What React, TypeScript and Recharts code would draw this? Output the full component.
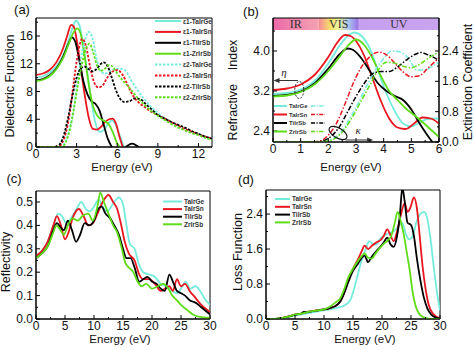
import React from 'react';
import { LineChart, Line, XAxis, YAxis, ReferenceArea, ReferenceDot, ReferenceLine } from 'recharts';

type P = [number, number];

const GE = '#74ecdc';
const SN = '#e8161e';
const SB = '#000000';
const ZR = '#5edc18';
const FONT = "'Liberation Sans', Arial, Helvetica, sans-serif";
const LW = 1.8;

// ---------- (a) dielectric function ----------
const aEnergyMajor = [0, 3, 6, 9, 12];
const aEnergyTicks = [0, 1.5, 3, 4.5, 6, 7.5, 9, 10.5, 12];
const aValueMajor = [0, 4, 8, 12, 16];
const aValueTicks = [0, 2, 4, 6, 8, 10, 12, 14, 16, 18];

const eps1TaIrGe: P[] = [[0, 10.0], [0.5, 10.2], [1, 10.7], [1.5, 11.6], [2, 13.2], [2.4, 15.3], [2.7, 17.2], [2.95, 18.2], [3.2, 17.6], [3.5, 14.5], [3.8, 10.5], [4.1, 6.5], [4.4, 3.4], [4.7, 2.2], [5.0, 2.4], [5.3, 3.3], [5.6, 3.8], [5.9, 3.2], [6.2, 1.6], [6.5, 0], [6.8, -1.5], [7.5, -2]];
const eps1TaIrSn: P[] = [[0, 10.4], [0.5, 10.6], [1, 11.1], [1.5, 12.2], [2, 14.2], [2.3, 16.0], [2.6, 17.6], [2.8, 17.3], [3.0, 15.5], [3.3, 11.5], [3.6, 7.5], [3.9, 4.2], [4.2, 2.6], [4.5, 2.5], [4.8, 2.9], [5.1, 3.6], [5.4, 4.0], [5.65, 4.1], [5.9, 3.4], [6.15, 1.6], [6.4, 0.1], [6.7, -1], [7.5, -1.5]];
const eps1TiIrSb: P[] = [[0, 9.6], [0.5, 9.8], [1, 10.3], [1.5, 11.3], [2, 13.0], [2.4, 14.9], [2.65, 15.8], [2.9, 15.2], [3.2, 12.5], [3.5, 9.5], [3.8, 7.6], [4.1, 6.6], [4.4, 6.2], [4.7, 5.2], [5.0, 3.2], [5.3, 1.2], [5.6, 0], [5.9, -0.8], [6.3, -0.6], [6.7, 0.1], [7.1, 0.5], [7.5, 0.1], [7.9, -0.6], [8.5, -1]];
const eps1ZrIrSb: P[] = [[0, 9.5], [0.5, 9.7], [1, 10.2], [1.5, 11.2], [2, 12.8], [2.4, 14.8], [2.8, 16.6], [3.05, 17.1], [3.3, 16.3], [3.6, 13.0], [3.9, 9.0], [4.2, 6.0], [4.5, 4.6], [4.8, 4.0], [5.1, 3.7], [5.4, 3.2], [5.7, 2.0], [6.0, 0.5], [6.2, 0], [6.5, -1], [7.5, -1.5]];
const eps2TaIrGe: P[] = [[0, 0], [1.8, 0], [2.1, 0.5], [2.4, 2], [2.7, 4.5], [3.0, 8.5], [3.3, 12.5], [3.6, 15.3], [3.9, 16.6], [4.2, 15.5], [4.5, 12.5], [4.8, 10.8], [5.1, 10.6], [5.4, 10.9], [5.8, 11.2], [6.2, 11.3], [6.6, 11.0], [7.0, 9.7], [7.5, 8.2], [8, 6.9], [8.5, 5.8], [9, 4.9], [9.5, 4.2], [10, 3.6], [10.5, 3.0], [11, 2.6], [11.5, 2.2], [12, 1.9], [12.5, 1.5], [13, 1.2]];
const eps2TaIrSn: P[] = [[0, 0], [1.6, 0], [1.9, 0.5], [2.2, 2], [2.5, 5], [2.8, 9.5], [3.1, 13.5], [3.4, 15.6], [3.7, 14.5], [4.0, 11.5], [4.3, 9.3], [4.6, 8.6], [4.9, 8.8], [5.2, 9.8], [5.6, 10.8], [6.0, 11.1], [6.4, 10.4], [6.8, 8.8], [7.2, 7.3], [7.6, 6.4], [8, 5.8], [8.5, 5.1], [9, 4.6], [9.5, 4.1], [10, 3.6], [10.5, 3.1], [11, 2.6], [11.5, 2.2], [12, 1.8], [12.5, 1.5], [13, 1.2]];
const eps2TiIrSb: P[] = [[0, 0], [1.5, 0], [1.8, 0.5], [2.1, 2], [2.4, 4.5], [2.7, 7.5], [3.0, 10], [3.3, 11.3], [3.6, 11.6], [3.9, 11.2], [4.2, 10.9], [4.5, 11.3], [4.8, 12.0], [5.0, 12.2], [5.3, 11.6], [5.6, 10.0], [5.9, 8.2], [6.2, 7.0], [6.5, 6.5], [6.9, 6.6], [7.3, 7.0], [7.7, 6.9], [8.1, 6.2], [8.5, 5.5], [9, 4.6], [9.5, 4.1], [10, 3.6], [10.5, 3.2], [11, 2.8], [11.5, 2.3], [12, 1.9], [12.5, 1.5], [13, 1.2]];
const eps2ZrIrSb: P[] = [[0, 0], [1.9, 0], [2.2, 0.7], [2.5, 2.5], [2.8, 5.5], [3.1, 9.0], [3.4, 12.0], [3.7, 14.2], [3.95, 14.9], [4.2, 13.8], [4.5, 11.8], [4.8, 11.0], [5.1, 11.3], [5.4, 11.8], [5.7, 11.5], [6.0, 10.6], [6.5, 9.4], [7, 8.3], [7.5, 7.1], [8, 6.1], [8.5, 5.2], [9, 4.5], [9.5, 3.9], [10, 3.3], [10.5, 2.8], [11, 2.4], [11.5, 2.0], [12, 1.7], [12.5, 1.3], [13, 1.0]];

// ---------- (b) refractive index / extinction coefficient ----------
const bEnergyMajor = [0, 1, 2, 3, 4, 5, 6];
const bEnergyTicks = [0, 0.5, 1, 1.5, 2, 2.5, 3, 3.5, 4, 4.5, 5, 5.5, 6];
const bIndexMajor = [2.4, 3.2, 4.0];
const bIndexTicks = [2.4, 2.8, 3.2, 3.6, 4.0, 4.4];
const bKappaMajor = [0, 0.8, 1.6, 2.4];
const bKappaTicks = [0, 0.4, 0.8, 1.2, 1.6, 2.0, 2.4, 2.8];
const bBands = ['IR', 'VIS', 'UV'];
const bBandEdges = [0, 1.65, 3.1, 6];

const nTaIrGe: P[] = [[0, 3.14], [0.5, 3.16], [1, 3.23], [1.5, 3.4], [2, 3.75], [2.4, 4.1], [2.7, 4.3], [2.95, 4.37], [3.2, 4.3], [3.5, 4.05], [3.8, 3.6], [4.1, 3.15], [4.4, 2.8], [4.7, 2.55], [5.0, 2.49], [5.3, 2.57], [5.6, 2.64], [6, 2.65]];
const nTaIrSn: P[] = [[0, 3.22], [0.5, 3.25], [1, 3.33], [1.5, 3.52], [2, 3.88], [2.3, 4.15], [2.6, 4.32], [2.8, 4.3], [3.0, 4.2], [3.3, 3.9], [3.6, 3.45], [3.9, 3.0], [4.2, 2.65], [4.5, 2.47], [4.8, 2.44], [5.1, 2.55], [5.4, 2.67], [5.7, 2.65], [6, 2.55]];
const nTiIrSb: P[] = [[0, 3.1], [0.5, 3.12], [1, 3.19], [1.5, 3.35], [2, 3.65], [2.4, 3.93], [2.7, 4.05], [2.9, 4.02], [3.2, 3.85], [3.5, 3.6], [3.8, 3.35], [4.1, 3.2], [4.4, 3.1], [4.7, 3.02], [5.0, 2.83], [5.3, 2.55], [5.6, 2.3], [5.8, 2.15], [6, 2.0]];
const nZrIrSb: P[] = [[0, 3.09], [0.5, 3.11], [1, 3.18], [1.5, 3.33], [2, 3.6], [2.4, 3.88], [2.7, 4.1], [3.0, 4.23], [3.3, 4.12], [3.6, 3.85], [3.9, 3.5], [4.2, 3.2], [4.5, 3.02], [4.8, 2.85], [5.1, 2.72], [5.4, 2.58], [5.7, 2.43], [6, 2.28]];
const kTaIrGe: P[] = [[0, 0], [1.5, 0], [1.9, 0.02], [2.2, 0.1], [2.5, 0.3], [2.8, 0.65], [3.1, 1.05], [3.4, 1.5], [3.7, 1.9], [4.0, 2.2], [4.3, 2.4], [4.6, 2.37], [4.9, 2.2], [5.2, 1.9], [5.5, 1.9], [5.8, 2.02], [6, 2.1]];
const kTaIrSn: P[] = [[0, 0], [1.4, 0], [1.7, 0.03], [2.0, 0.18], [2.3, 0.5], [2.6, 1.0], [2.9, 1.55], [3.2, 1.98], [3.5, 2.25], [3.8, 2.37], [4.1, 2.3], [4.4, 2.08], [4.7, 1.85], [5.0, 1.72], [5.3, 1.75], [5.6, 1.95], [6, 2.22]];
const kTiIrSb: P[] = [[0, 0], [1.5, 0], [1.8, 0.03], [2.1, 0.15], [2.4, 0.4], [2.7, 0.8], [3.0, 1.2], [3.3, 1.55], [3.6, 1.8], [3.9, 1.86], [4.2, 1.86], [4.5, 1.98], [4.8, 2.15], [5.1, 2.3], [5.35, 2.36], [5.6, 2.3], [6, 2.15]];
const kZrIrSb: P[] = [[0, 0], [1.7, 0], [2.0, 0.03], [2.3, 0.12], [2.6, 0.35], [2.9, 0.7], [3.2, 1.1], [3.5, 1.5], [3.8, 1.9], [4.1, 2.1], [4.4, 2.08], [4.7, 2.0], [5.0, 1.96], [5.3, 2.05], [5.6, 2.2], [6, 2.38]];

// ---------- (c) reflectivity ----------
const cdEnergyMajor = [0, 5, 10, 15, 20, 25, 30];
const cdEnergyTicks = [0, 2.5, 5, 7.5, 10, 12.5, 15, 17.5, 20, 22.5, 25, 27.5, 30];
const cReflMajor = [0, 0.1, 0.2, 0.3, 0.4, 0.5];
const cReflTicks = [0, 0.05, 0.1, 0.15, 0.2, 0.25, 0.3, 0.35, 0.4, 0.45, 0.5];

const rTaIrGe: P[] = [[0, 0.27], [1, 0.29], [2, 0.33], [3, 0.4], [3.8, 0.45], [4.5, 0.44], [5.2, 0.41], [6, 0.43], [7, 0.47], [7.8, 0.5], [8.6, 0.47], [9.3, 0.46], [10, 0.48], [10.8, 0.51], [11.5, 0.48], [12.3, 0.46], [13.2, 0.49], [14.3, 0.52], [15, 0.49], [15.6, 0.4], [16.2, 0.32], [17, 0.3], [17.8, 0.23], [18.5, 0.2], [19.5, 0.19], [20.5, 0.18], [21.5, 0.15], [22.5, 0.14], [23.5, 0.12], [24.3, 0.11], [25, 0.13], [25.8, 0.16], [26.6, 0.13], [27.5, 0.14], [28.3, 0.12], [29, 0.09], [30, 0.06]];
const rTaIrSn: P[] = [[0, 0.27], [1, 0.29], [2, 0.33], [3, 0.4], [3.6, 0.44], [4.3, 0.4], [5, 0.34], [5.6, 0.37], [6.3, 0.43], [7.4, 0.47], [8.2, 0.44], [9, 0.4], [9.8, 0.41], [10.6, 0.45], [11.5, 0.5], [12.5, 0.53], [13.3, 0.5], [14, 0.47], [14.7, 0.4], [15.3, 0.33], [16, 0.28], [17, 0.25], [17.8, 0.19], [18.5, 0.17], [19.5, 0.17], [20.5, 0.15], [21.5, 0.12], [22.3, 0.13], [23, 0.14], [23.6, 0.12], [24.3, 0.17], [25, 0.14], [25.7, 0.15], [26.5, 0.12], [27.5, 0.09], [28.5, 0.06], [30, 0.03]];
const rTiIrSb: P[] = [[0, 0.26], [1, 0.28], [2, 0.31], [3, 0.38], [3.6, 0.41], [4.3, 0.39], [4.8, 0.38], [5.5, 0.42], [6.2, 0.38], [6.9, 0.33], [7.6, 0.36], [8.4, 0.41], [9.2, 0.4], [10, 0.42], [10.7, 0.47], [11.3, 0.48], [12, 0.45], [12.8, 0.43], [13.5, 0.4], [14.3, 0.36], [15, 0.3], [15.6, 0.26], [16.3, 0.26], [17, 0.22], [17.8, 0.16], [18.5, 0.17], [19.2, 0.18], [20, 0.16], [20.8, 0.15], [21.5, 0.13], [22.2, 0.12], [23, 0.19], [23.6, 0.16], [24.3, 0.12], [25, 0.11], [25.7, 0.1], [26.5, 0.08], [27.5, 0.07], [28.5, 0.05], [30, 0.02]];
const rZrIrSb: P[] = [[0, 0.26], [1, 0.28], [2, 0.31], [3, 0.37], [3.5, 0.4], [4.2, 0.38], [4.8, 0.36], [5.5, 0.4], [6.3, 0.43], [7.2, 0.42], [8, 0.44], [9, 0.45], [9.8, 0.42], [10.5, 0.47], [11.1, 0.54], [11.7, 0.5], [12.5, 0.45], [13.3, 0.4], [14, 0.37], [14.8, 0.3], [15.4, 0.24], [16, 0.22], [16.8, 0.2], [17.5, 0.16], [18.2, 0.14], [19, 0.15], [20, 0.13], [21, 0.14], [22, 0.15], [22.8, 0.13], [23.5, 0.1], [24.3, 0.08], [25, 0.06], [26, 0.04], [27, 0.02], [28, 0.01], [30, 0.005]];

// ---------- (d) loss function ----------
const dLossMajor = [0, 0.8, 1.6, 2.4];
const dLossTicks = [0, 0.4, 0.8, 1.2, 1.6, 2.0, 2.4, 2.8];

const lTaIrGe: P[] = [[0, 0], [2, 0.01], [4, 0.05], [6, 0.1], [8, 0.15], [10, 0.2], [11, 0.22], [12, 0.25], [13, 0.28], [14, 0.35], [14.6, 0.45], [15.2, 0.7], [15.8, 1.0], [16.5, 1.35], [17.2, 1.6], [17.8, 1.78], [18.4, 1.72], [19, 1.7], [19.6, 1.82], [20.3, 1.9], [21, 1.95], [21.7, 1.98], [22.4, 2.05], [23, 2.15], [23.5, 2.2], [24.1, 1.95], [24.7, 1.82], [25.3, 1.9], [25.9, 2.2], [26.6, 2.4], [27.3, 2.45], [27.8, 2.3], [28.4, 1.8], [29, 1.1], [29.5, 0.6], [30, 0.2]];
const lTaIrSn: P[] = [[0, 0], [2, 0.01], [4, 0.06], [5, 0.1], [6, 0.12], [7, 0.16], [8, 0.18], [9, 0.2], [10, 0.22], [11, 0.25], [12, 0.3], [12.8, 0.4], [13.5, 0.6], [14.2, 0.9], [15, 1.15], [15.8, 1.35], [16.5, 1.55], [17, 1.68], [17.6, 1.6], [18.3, 1.68], [19, 1.75], [19.7, 1.8], [20.3, 1.9], [20.9, 2.05], [21.5, 1.9], [22, 1.78], [22.6, 2.0], [23.2, 2.35], [23.9, 2.65], [24.4, 2.45], [24.9, 2.55], [25.5, 2.78], [26, 2.55], [26.5, 1.9], [27, 1.2], [27.5, 0.7], [28, 0.35], [28.8, 0.12], [30, 0.02]];
const lTiIrSb: P[] = [[0, 0], [2, 0.01], [4, 0.06], [5, 0.1], [6, 0.12], [6.5, 0.16], [7, 0.15], [8, 0.18], [9, 0.2], [10, 0.22], [11, 0.25], [12, 0.3], [12.8, 0.4], [13.5, 0.6], [14.2, 0.85], [15, 1.1], [15.8, 1.25], [16.5, 1.4], [17, 1.45], [17.6, 1.3], [18.2, 1.42], [19, 1.55], [19.7, 1.65], [20.3, 1.75], [20.9, 1.86], [21.5, 1.7], [22, 1.65], [22.6, 1.9], [23.1, 2.4], [23.5, 3.0], [23.9, 2.7], [24.4, 2.2], [25, 2.15], [25.5, 1.9], [26, 1.4], [26.6, 0.9], [27.2, 0.5], [27.8, 0.25], [28.5, 0.1], [29.3, 0.03], [30, 0.01]];
const lZrIrSb: P[] = [[0, 0], [2, 0.01], [4, 0.06], [5, 0.1], [6, 0.12], [7, 0.15], [8, 0.18], [9, 0.2], [10, 0.22], [11, 0.28], [12, 0.38], [12.7, 0.45], [13.4, 0.65], [14.2, 0.95], [15, 1.15], [15.7, 1.3], [16.4, 1.42], [17, 1.5], [17.6, 1.4], [18.2, 1.38], [18.9, 1.5], [19.6, 1.62], [20.3, 1.72], [21, 1.8], [21.6, 1.9], [22.2, 2.2], [22.7, 2.45], [23.2, 2.25], [23.8, 1.9], [24.3, 1.5], [24.8, 1.1], [25.3, 0.6], [25.8, 0.3], [26.4, 0.12], [27, 0.05], [28, 0.01], [30, 0]];

// ---------- series configs ----------
const compounds = ['TaIrGe', 'TaIrSn', 'TiIrSb', 'ZrIrSb'];
const colors = [GE, SN, SB, ZR];

const seriesA = [
  { name: 'ε1-TaIrGe', color: GE, dash: undefined as string | undefined, pts: eps1TaIrGe },
  { name: 'ε1-TaIrSn', color: SN, dash: undefined, pts: eps1TaIrSn },
  { name: 'ε1-TiIrSb', color: SB, dash: undefined, pts: eps1TiIrSb },
  { name: 'ε1-ZrIrSb', color: ZR, dash: undefined, pts: eps1ZrIrSb },
  { name: 'ε2-TaIrGe', color: GE, dash: '2.5 1.5', pts: eps2TaIrGe },
  { name: 'ε2-TaIrSn', color: SN, dash: '2.5 1.5', pts: eps2TaIrSn },
  { name: 'ε2-TiIrSb', color: SB, dash: '2.5 1.5', pts: eps2TiIrSb },
  { name: 'ε2-ZrIrSb', color: ZR, dash: '2.5 1.5', pts: eps2ZrIrSb },
];
const seriesBn = [nTaIrGe, nTaIrSn, nTiIrSb, nZrIrSb];
const seriesBk = [kTaIrGe, kTaIrSn, kTiIrSb, kZrIrSb];
const seriesC = [rTaIrGe, rTaIrSn, rTiIrSb, rZrIrSb];
const seriesD = [lTaIrGe, lTaIrSn, lTiIrSb, lZrIrSb];
const KDASH = '5 1.8 1.5 1.8';

const toRows = (a: P[]) => a.map(([x, y]) => ({ x, y }));
const isMajor = (v: number, majors: number[]) => majors.some((m) => Math.abs(m - v) < 1e-6);
const f0 = (v: number) => String(v);
const f1 = (v: number) => v.toFixed(1);

const makeXTick = (majors: number[], fmt: (v: number) => string) => (p: any) => {
  const v = Number(p.payload.value);
  const mj = isMajor(v, majors);
  return (
    <g>
      <line x1={p.x} x2={p.x} y1={p.y} y2={p.y - (mj ? 4 : 2)} stroke="#000" strokeWidth={1} />
      {mj ? (
        <text x={p.x} y={p.y + 11} textAnchor="middle" fontSize={12} fontFamily={FONT} fill="#111">{fmt(v)}</text>
      ) : null}
    </g>
  );
};
const makeYTickL = (majors: number[], fmt: (v: number) => string) => (p: any) => {
  const v = Number(p.payload.value);
  const mj = isMajor(v, majors);
  return (
    <g>
      <line x1={p.x} x2={p.x + (mj ? 4 : 2)} y1={p.y} y2={p.y} stroke="#000" strokeWidth={1} />
      {mj ? (
        <text x={p.x - 3} y={p.y + 4} textAnchor="end" fontSize={12} fontFamily={FONT} fill="#111">{fmt(v)}</text>
      ) : null}
    </g>
  );
};
const makeYTickR = (majors: number[], fmt: (v: number) => string) => (p: any) => {
  const v = Number(p.payload.value);
  const mj = isMajor(v, majors);
  return (
    <g>
      <line x1={p.x} x2={p.x - (mj ? 4 : 2)} y1={p.y} y2={p.y} stroke="#000" strokeWidth={1} />
      {mj ? (
        <text x={p.x + 3} y={p.y + 4} textAnchor="start" fontSize={12} fontFamily={FONT} fill="#111">{fmt(v)}</text>
      ) : null}
    </g>
  );
};

const axisCommon = { tickSize: 0, tickMargin: 0, tickLine: false, interval: 0 as const, allowDataOverflow: true, axisLine: { stroke: '#000' } };

const Title = ({ x, y, text, rot, size = 12 }: { x: number; y: number; text: string; rot?: number; size?: number }) => (
  <div
    style={{
      position: 'absolute', left: x, top: y, whiteSpace: 'pre', lineHeight: 1, fontSize: size, color: '#111',
      fontFamily: FONT, transform: `translate(-50%,-50%)${rot ? ` rotate(${rot}deg)` : ''}`,
    }}
  >
    {text}
  </div>
);

export default function App() {
  const panelW = 237;
  const panelH = 175;
  return (
    <div style={{ position: 'fixed', left: 0, top: 0, width: 474, height: 350, background: '#fff', overflow: 'hidden', fontFamily: FONT }}>
      {/* (a) */}
      <div style={{ position: 'absolute', left: 0, top: 0 }}>
        <LineChart width={panelW} height={panelH} margin={{ top: 18, right: 25, bottom: 8, left: 6 }}>
          <XAxis type="number" dataKey="x" domain={[0, 13]} ticks={aEnergyTicks} height={20} tick={makeXTick(aEnergyMajor, f0)} {...axisCommon} />
          <YAxis type="number" dataKey="y" domain={[0, 18.6]} ticks={aValueTicks} width={30} tick={makeYTickL(aValueMajor, f0)} {...axisCommon} />
          <ReferenceArea x1={0} x2={13} y1={0} y2={18.6} fill="none" fillOpacity={0} stroke="#000" strokeWidth={1} />
          {seriesA.map((s) => (
            <Line key={s.name} data={toRows(s.pts)} dataKey="y" type="monotone" stroke={s.color} strokeWidth={LW}
              strokeDasharray={s.dash} dot={false} isAnimationActive={false} />
          ))}
        </LineChart>
      </div>

      {/* (b) */}
      <div style={{ position: 'absolute', left: 237, top: 0 }}>
        <LineChart width={panelW} height={panelH} margin={{ top: 18, right: 5, bottom: 13, left: 6 }}>
          <defs>
            <linearGradient id="gIR" x1="0" y1="0" x2="1" y2="0">
              <stop offset="0" stopColor="#ec6aa8" />
              <stop offset="1" stopColor="#f4a2b2" />
            </linearGradient>
            <linearGradient id="gVIS" x1="0" y1="0" x2="1" y2="0">
              <stop offset="0" stopColor="#f58a9a" />
              <stop offset="0.3" stopColor="#f7e26a" />
              <stop offset="0.5" stopColor="#eef3a0" />
              <stop offset="0.75" stopColor="#a8c4f2" />
              <stop offset="1" stopColor="#9a6ee2" />
            </linearGradient>
            <linearGradient id="gUV" x1="0" y1="0" x2="1" y2="0">
              <stop offset="0" stopColor="#c79ff0" />
              <stop offset="1" stopColor="#c9a4ee" />
            </linearGradient>
          </defs>
          <XAxis type="number" dataKey="x" domain={[0, 6]} ticks={bEnergyTicks} height={20} tick={makeXTick(bEnergyMajor, f0)} {...axisCommon} />
          <YAxis yAxisId="n" type="number" dataKey="y" domain={[2.18, 4.66]} ticks={bIndexTicks} width={30} tick={makeYTickL(bIndexMajor, f1)} {...axisCommon} />
          <YAxis yAxisId="k" orientation="right" type="number" dataKey="y" domain={[0, 3.27]} ticks={bKappaTicks} width={30} tick={makeYTickR(bKappaMajor, f1)} {...axisCommon} />
          {bBands.map((b, i) => (
            <ReferenceArea key={b} yAxisId="n" x1={bBandEdges[i]} x2={bBandEdges[i + 1]} y1={4.42} y2={4.66}
              fill={`url(#g${b})`} fillOpacity={1} stroke="none"
              label={{ value: b, position: 'center', fill: '#333', fontSize: 12, fontFamily: "'Liberation Serif', 'Times New Roman', serif" }} />
          ))}
          <ReferenceArea yAxisId="n" x1={0} x2={6} y1={2.18} y2={4.66} fill="none" fillOpacity={0} stroke="#000" strokeWidth={1} />
          {seriesBn.map((s, i) => (
            <Line key={'n' + i} yAxisId="n" data={toRows(s)} dataKey="y" type="monotone" stroke={colors[i]} strokeWidth={LW}
              dot={false} isAnimationActive={false} />
          ))}
          {seriesBk.map((s, i) => (
            <Line key={'k' + i} yAxisId="k" data={toRows(s)} dataKey="y" type="monotone" stroke={colors[i]} strokeWidth={1.5}
              strokeDasharray={KDASH} dot={false} isAnimationActive={false} />
          ))}
          <ReferenceLine yAxisId="n" segment={[{ x: 0.1, y: 3.41 }, { x: 0.9, y: 3.41 }]} stroke="#333" strokeWidth={1} />
          <ReferenceDot yAxisId="n" x={0.02} y={3.41} r={3}
            shape={(p: any) => <polygon points={`${p.cx},${p.cy} ${p.cx + 6},${p.cy - 2.5} ${p.cx + 6},${p.cy + 2.5}`} fill="#333" />} />
          <ReferenceDot yAxisId="n" x={0.3} y={3.5} r={3}
            shape={(p: any) => <text x={p.cx} y={p.cy} fontSize={11} fontStyle="italic" fontFamily="'Liberation Serif', serif" fill="#222">η</text>} />
          <ReferenceDot yAxisId="n" x={0.95} y={3.22} r={3}
            shape={(p: any) => <ellipse cx={p.cx} cy={p.cy} rx={4.5} ry={8.5} fill="none" stroke="#222" strokeWidth={1} strokeDasharray="2 1.5" />} />
          <ReferenceDot yAxisId="n" x={2.35} y={2.36} r={3}
            shape={(p: any) => <ellipse cx={p.cx} cy={p.cy} rx={10} ry={5} fill="none" stroke="#111" strokeWidth={1.2} transform={`rotate(30 ${p.cx} ${p.cy})`} />} />
          <ReferenceLine yAxisId="n" segment={[{ x: 2.62, y: 2.22 }, { x: 3.55, y: 2.22 }]} stroke="#333" strokeWidth={1} />
          <ReferenceDot yAxisId="n" x={3.62} y={2.22} r={3}
            shape={(p: any) => <polygon points={`${p.cx},${p.cy} ${p.cx - 6},${p.cy - 2.5} ${p.cx - 6},${p.cy + 2.5}`} fill="#333" />} />
          <ReferenceDot yAxisId="n" x={2.98} y={2.34} r={3}
            shape={(p: any) => <text x={p.cx} y={p.cy} fontSize={11} fontStyle="italic" fontFamily="'Liberation Serif', serif" fill="#222">κ</text>} />
        </LineChart>
      </div>

      {/* (c) */}
      <div style={{ position: 'absolute', left: 0, top: 175 }}>
        <LineChart width={panelW} height={panelH} margin={{ top: 16, right: 27, bottom: 11, left: 6 }}>
          <XAxis type="number" dataKey="x" domain={[0, 30]} ticks={cdEnergyTicks} height={20} tick={makeXTick(cdEnergyMajor, f0)} {...axisCommon} />
          <YAxis type="number" dataKey="y" domain={[0, 0.547]} ticks={cReflTicks} width={30} tick={makeYTickL(cReflMajor, f1)} {...axisCommon} />
          <ReferenceArea x1={0} x2={30} y1={0} y2={0.547} fill="none" fillOpacity={0} stroke="#000" strokeWidth={1} />
          {seriesC.map((s, i) => (
            <Line key={'c' + i} data={toRows(s)} dataKey="y" type="monotone" stroke={colors[i]} strokeWidth={LW}
              dot={false} isAnimationActive={false} />
          ))}
        </LineChart>
      </div>

      {/* (d) */}
      <div style={{ position: 'absolute', left: 237, top: 175 }}>
        <LineChart width={panelW} height={panelH} margin={{ top: 15, right: 34, bottom: 11, left: 4 }}>
          <XAxis type="number" dataKey="x" domain={[0, 30]} ticks={cdEnergyTicks} height={20} tick={makeXTick(cdEnergyMajor, f0)} {...axisCommon} />
          <YAxis type="number" dataKey="y" domain={[0, 2.95]} ticks={dLossTicks} width={25} tick={makeYTickL(dLossMajor, f1)} {...axisCommon} />
          <ReferenceArea x1={0} x2={30} y1={0} y2={2.95} fill="none" fillOpacity={0} stroke="#000" strokeWidth={1} />
          {seriesD.map((s, i) => (
            <Line key={'d' + i} data={toRows(s)} dataKey="y" type="monotone" stroke={colors[i]} strokeWidth={LW}
              dot={false} isAnimationActive={false} />
          ))}
        </LineChart>
      </div>

      {/* legends */}
      <svg width={474} height={350} style={{ position: 'absolute', left: 0, top: 0, pointerEvents: 'none' }}>
        {seriesA.map((s, i) => (
          <g key={'la' + i}>
            <line x1={155} x2={181} y1={21 + i * 10.9} y2={21 + i * 10.9} stroke={s.color} strokeWidth={2} strokeDasharray={s.dash} />
            <text x={183} y={21 + i * 10.9 + 2.5} fontSize={6.5} fontWeight={600} fontFamily={FONT} fill="#333">{s.name}</text>
          </g>
        ))}
        {compounds.map((c, i) => (
          <g key={'lb' + i}>
            <line x1={274} x2={287} y1={106 + i * 8.5} y2={106 + i * 8.5} stroke={colors[i]} strokeWidth={2} />
            <text x={289} y={106 + i * 8.5 + 2.3} fontSize={6} fontWeight={600} fontFamily={FONT} fill="#333">{c}</text>
            <line x1={311} x2={325} y1={106 + i * 8.5} y2={106 + i * 8.5} stroke={colors[i]} strokeWidth={1.4} strokeDasharray="4 1.5 1.2 1.5" />
          </g>
        ))}
        {compounds.map((c, i) => (
          <g key={'lc' + i}>
            <line x1={163} x2={182} y1={201.5 + i * 7.6} y2={201.5 + i * 7.6} stroke={colors[i]} strokeWidth={2} />
            <text x={184} y={201.5 + i * 7.6 + 2.3} fontSize={6.5} fontWeight={600} fontFamily={FONT} fill="#333">{c}</text>
          </g>
        ))}
        {compounds.map((c, i) => (
          <g key={'ld' + i}>
            <line x1={275} x2={290} y1={199 + i * 7.8} y2={199 + i * 7.8} stroke={colors[i]} strokeWidth={2} />
            <text x={292} y={199 + i * 7.8 + 2.3} fontSize={6.5} fontWeight={600} fontFamily={FONT} fill="#333">{c}</text>
          </g>
        ))}
      </svg>

      <Title x={22} y={9} text="(a)" size={13} />
      <Title x={251} y={11} text="(b)" size={13} />
      <Title x={14} y={178} text="(c)" size={13} />
      <Title x={246} y={179} text="(d)" size={13} />
      <Title x={10} y={86} text="Dielectric Function" rot={-90} size={12.5} />
      <Title x={122} y={168} text="Energy (eV)" size={11.5} />
      <Title x={233} y={90} text={'Refractive    Index'} rot={-90} size={12.5} />
      <Title x={468} y={82} text="Extinction Coefficient" rot={-90} size={12.5} />
      <Title x={351} y={168} text="Energy (eV)" size={11.5} />
      <Title x={6} y={262} text="Reflectivity" rot={-90} size={12.5} />
      <Title x={120} y={340} text="Energy (eV)" size={11.5} />
      <Title x={238} y={252} text="Loss Function" rot={-90} size={12.5} />
      <Title x={365} y={340} text="Energy (eV)" size={11.5} />
    </div>
  );
}
